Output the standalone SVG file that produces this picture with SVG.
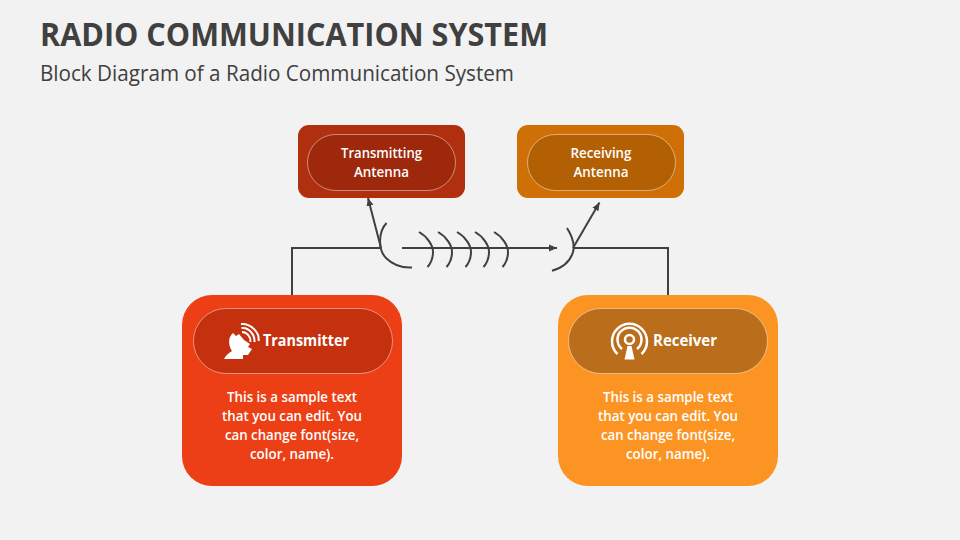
<svg xmlns="http://www.w3.org/2000/svg" width="960" height="540" viewBox="0 0 960 540">
<style>
text{font-family:"Open Sans","Noto Sans",sans-serif}
.w{fill:#fff;text-anchor:middle;font-size:14.500px;font-weight:600}
.h{fill:#fff;font-size:16px;font-weight:700}
.pill{stroke:#fff;stroke-opacity:.45;stroke-width:1}
.ln{fill:none;stroke:#404040;stroke-width:2}
.ic{fill:none;stroke:#fff}
</style>
<defs>
<marker id="ah" markerUnits="userSpaceOnUse" markerWidth="9" markerHeight="8" refX="8" refY="4" orient="auto"><path d="M0 0.500L8 4L0 7.500z" fill="#404040"/></marker>
</defs>
<rect width="960" height="540" fill="#f2f2f2"/>
<text x="40" y="46" font-size="32" font-weight="700" fill="#404040" textLength="508" lengthAdjust="spacingAndGlyphs">RADIO COMMUNICATION SYSTEM</text>
<text x="40" y="81" font-size="21.500" fill="#404040" textLength="474" lengthAdjust="spacingAndGlyphs">Block Diagram of a Radio Communication System</text>
<g id="connectors">
<path class="ln" d="M292 295V248H381"/>
<path class="ln" d="M668 295V248H573"/>
<path class="ln" d="M381 248L368 198" marker-end="url(#ah)"/>
<path class="ln" d="M573 248L599.500 202.500" marker-end="url(#ah)"/>
<path class="ln" d="M402 248H557" marker-end="url(#ah)"/>
<path class="ln" d="M386.500 223C378 232 378 250 386 258C393 265 402 268 412 267.500"/>
<path class="ln" d="M567 228C572 236 575 245 573 252C570 262 562 268 552 270.700"/>
<path class="ln" d="M419 232C428 237 433 246 433 252C433 258 431 263 427.500 267"/>
<path class="ln" d="M438 232C447 237 452 246 452 252C452 258 450 263 446.500 267"/>
<path class="ln" d="M457 232C466 237 471 246 471 252C471 258 469 263 465.500 267"/>
<path class="ln" d="M475 232C484 237 489 246 489 252C489 258 487 263 483.500 267"/>
<path class="ln" d="M494 232C503 237 508 246 508 252C508 258 506 263 502.500 267"/>
</g>
<g id="transmitting-antenna">
<rect x="298" y="125" width="167" height="73" rx="11" fill="#b02f0e"/>
<rect class="pill" x="307.500" y="134.500" width="148" height="56" rx="28" fill="#9e280c"/>
<text class="w" x="381.500" y="158" textLength="81" lengthAdjust="spacingAndGlyphs">Transmitting</text>
<text class="w" x="381.500" y="177" textLength="55" lengthAdjust="spacingAndGlyphs">Antenna</text>
</g>
<g id="receiving-antenna">
<rect x="517" y="125" width="167" height="73" rx="11" fill="#cf7006"/>
<rect class="pill" x="527.500" y="134.500" width="148" height="56" rx="28" fill="#b36005"/>
<text class="w" x="601" y="158" textLength="61" lengthAdjust="spacingAndGlyphs">Receiving</text>
<text class="w" x="601" y="177" textLength="55" lengthAdjust="spacingAndGlyphs">Antenna</text>
</g>
<g id="transmitter">
<rect x="182" y="295" width="220" height="191" rx="30" fill="#ec3f15"/>
<rect class="pill" x="193.500" y="308.500" width="199" height="65" rx="32.500" fill="#c5310f"/>
<path d="M224 359C226 355 229 353 232 351C228 345 228 337 233 333L236 336L239 334L244 340L250 344L248 347L252 349L248 355L243 355L243 359Z" fill="#fff"/>
<path class="ic" stroke-width="2" d="M242 332C247 332 251 337 250.500 342"/>
<path class="ic" stroke-width="2" d="M241.500 328C249 327 255 335 254.500 342"/>
<path class="ic" stroke-width="2" d="M241 324C251 323 260 333 258.500 341"/>
<text class="h" x="263" y="346" textLength="86" lengthAdjust="spacingAndGlyphs">Transmitter</text>
<text class="w" x="292" y="402" textLength="130" lengthAdjust="spacingAndGlyphs">This is a sample text</text>
<text class="w" x="292" y="421" textLength="140" lengthAdjust="spacingAndGlyphs">that you can edit. You</text>
<text class="w" x="292" y="440" textLength="134" lengthAdjust="spacingAndGlyphs">can change font(size,</text>
<text class="w" x="292" y="459" textLength="84" lengthAdjust="spacingAndGlyphs">color, name).</text>
</g>
<g id="receiver">
<rect x="558" y="295" width="220" height="191" rx="30" fill="#fc9424"/>
<rect class="pill" x="568.500" y="308.500" width="199" height="65" rx="32.500" fill="#ba6d1b"/>
<circle class="ic" stroke-width="2.500" cx="629.500" cy="339.500" r="4.500"/>
<path class="ic" stroke-width="2.500" d="M622 349A12 12 0 1 1 637 349"/>
<path class="ic" stroke-width="2.500" d="M617.500 354A17.500 17.500 0 1 1 641.500 354"/>
<path d="M627.500 346H631.500L634.500 359.500H624.500Z" fill="#fff"/>
<text class="h" x="653" y="346" textLength="64" lengthAdjust="spacingAndGlyphs">Receiver</text>
<text class="w" x="668" y="402" textLength="130" lengthAdjust="spacingAndGlyphs">This is a sample text</text>
<text class="w" x="668" y="421" textLength="140" lengthAdjust="spacingAndGlyphs">that you can edit. You</text>
<text class="w" x="668" y="440" textLength="134" lengthAdjust="spacingAndGlyphs">can change font(size,</text>
<text class="w" x="668" y="459" textLength="84" lengthAdjust="spacingAndGlyphs">color, name).</text>
</g>
</svg>
